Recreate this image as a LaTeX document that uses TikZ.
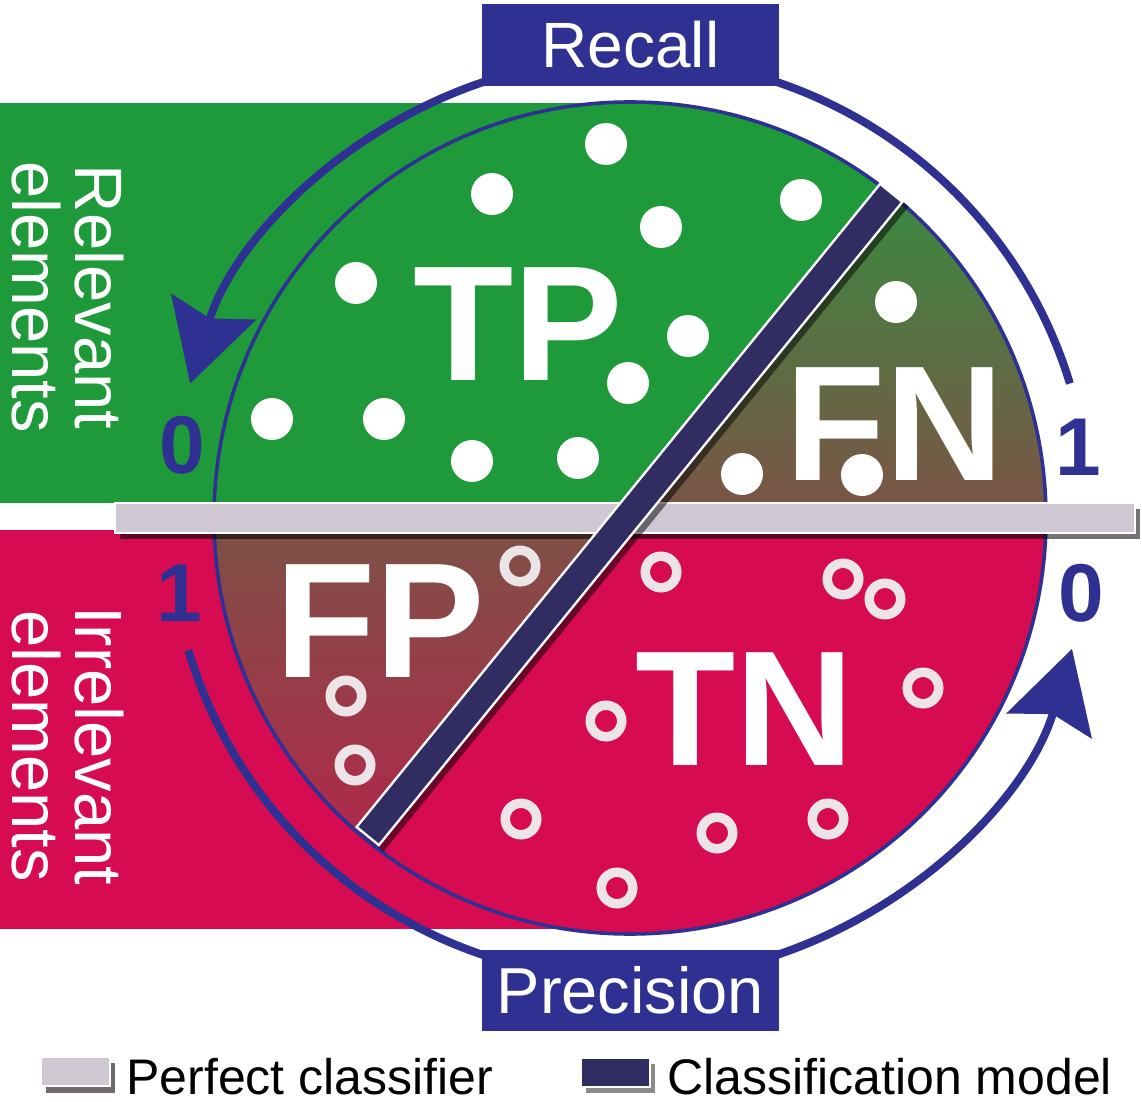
\documentclass[tikz,border=0pt]{standalone}
\usepackage{fontspec}
\setmainfont{Liberation Sans}
\usetikzlibrary{arrows.meta}
\definecolor{grn}{RGB}{31,154,59}
\definecolor{mag}{RGB}{215,11,81}
\definecolor{blu}{RGB}{46,49,146}
\definecolor{navy}{RGB}{49,44,98}
\definecolor{bargray}{RGB}{207,200,211}
\definecolor{ringc}{RGB}{237,228,232}
\definecolor{fnt}{RGB}{58,138,64}
\definecolor{fnb}{RGB}{125,82,70}
\definecolor{fpt}{RGB}{125,82,70}
\definecolor{fpb}{RGB}{176,40,75}
\definecolor{shadA}{RGB}{110,106,110}
\definecolor{shadB}{RGB}{138,138,138}
\begin{document}
\begin{tikzpicture}[x=0.5pt,y=-0.5pt,
  sidelabel/.style={rotate=-90, text=white, align=center, inner sep=0pt,
    font=\fontsize{33.5}{31.5}\selectfont},
  bigletters/.style={text=white, inner sep=0pt, font=\bfseries\fontsize{82}{90}\selectfont},
  digit/.style={text=blu, inner sep=0pt, font=\bfseries\fontsize{41}{48}\selectfont},
  titlebox/.style={fill=blu, text=white, inner sep=0pt, minimum width=148.5pt, minimum height=41pt},
  legendtext/.style={anchor=base west, inner sep=0pt, font=\fontsize{25}{30}\selectfont},
  dot/.style={fill=white},
  ring/.style={draw=ringc, line width=4.75pt},
  outerarc/.style={draw=blu, line width=4pt, -{Stealth[length=40pt,width=44pt,inset=6pt]}}
]
\useasboundingbox (0,0) rectangle (1142,1102);
\fill[white] (0,0) rectangle (1142,1102);
\coordinate (C) at (630,518);

% side background blocks
\fill[grn] (0,103) rectangle (600,503);
\fill[mag] (0,530) rectangle (600,929);
\node[sidelabel] (rel) at (68,297) {Relevant\\elements};
\node[sidelabel] (irr) at (68,746) {Irrelevant\\elements};

% disc regions
\begin{scope}
  \clip (C) circle[radius=416];
  \fill[grn] (200,90) rectangle (1060,518);
  \fill[mag] (200,518) rectangle (1060,945);
  \shade[top color=fnt, bottom color=fnb] (627,518) -- (894,190) -- (1060,190) -- (1060,518) -- cycle;
  \shade[top color=fpt, bottom color=fpb] (627,518) -- (365,840) -- (200,840) -- (200,518) -- cycle;
\end{scope}
\draw[blu, line width=1.8pt] (C) circle[radius=416];

% outer arcs
\draw[outerarc] ([shift={(-17:460)}]C) arc[start angle=-17, end angle=-163, radius=460];
\draw[outerarc] ([shift={(163.3:461)}]C) arc[start angle=163.3, end angle=16.5, radius=461];

% big labels
\node[bigletters] (tp) at (518,324) {TP};
\node[bigletters] (fn) at (895,424) {FN};
\node[bigletters] (fp) at (380,621) {FP};
\node[bigletters] (tn) at (745,709) {TN};

% relevant elements (dots)
\foreach \p in {(606,144),(492,194),(801,200),(661,227),(356,283),(688,336),(628,383),(272,419),(384,419),(472,461),(578,458),(896,302),(742,474),(862,475)}
  \fill[dot] \p circle[radius=21];
% irrelevant elements (rings)
\foreach \p in {(520,566),(346,696),(355,765),(661,572),(843,579),(885,599),(923,688),(606,721),(717,833),(828,819),(617,888),(521,819)}
  \draw[ring] \p circle[radius=15.75];

% perfect classifier bar
\fill[black, opacity=0.55] (120,509) rectangle (1140,539);
\draw[white, line width=1.2pt, fill=bargray] (115,503) rectangle (1135,533);

% classification model bar
\coordinate (d1) at (367,837);
\coordinate (d2) at (892,192);
\draw[black, opacity=0.5, line width=15pt] ([shift={(5,5)}]d1) -- ([shift={(5,5)}]d2);
\draw[white, line width=15.5pt] (d1) -- (d2);
\draw[navy, line width=13pt, shorten <=1.25pt, shorten >=1.25pt] (d1) -- (d2);

% digits
\node[digit] (r0) at (182,445) {0};
\node[digit] (r1) at (1078,447) {1};
\node[digit] (p1) at (179,593) {1};
\node[digit] (p0) at (1081,593) {0};

% title boxes
\node[titlebox, font=\fontsize{32}{36}\selectfont] (recall) at (630.5,45) {Recall};
\node[titlebox, minimum height=40.5pt, font=\fontsize{32.5}{36}\selectfont] (precision) at (630.5,990.5) {Precision};

% legend
\fill[shadA] (46,1063) rectangle (115,1093);
\draw[white, line width=1pt, fill=bargray] (41,1057) rectangle (110,1086);
\node[legendtext] (lperf) at (126,1094) {Perfect classifier};
\fill[shadB] (586,1064) rectangle (655,1093);
\draw[white, line width=1pt, fill=navy] (581,1058) rectangle (650,1087);
\node[legendtext] (lclass) at (667,1094) {Classification model};
\end{tikzpicture}
\end{document}
